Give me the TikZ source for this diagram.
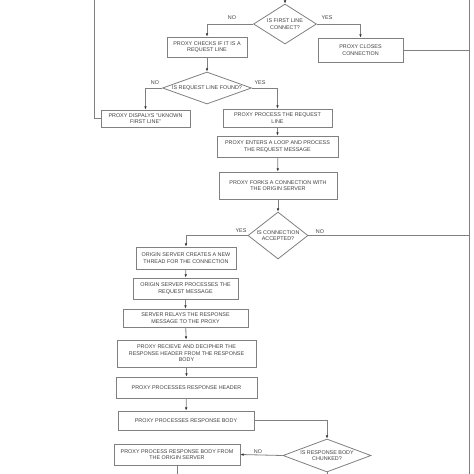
\documentclass[tikz,border=0pt]{standalone}
\usepackage{fontspec}
\setmainfont{Liberation Sans}
\usepackage{xcolor}
\usetikzlibrary{arrows.meta,positioning,shapes.geometric}

\definecolor{flowline}{HTML}{808080}
\definecolor{flowtext}{HTML}{404040}

\begin{document}
\begin{tikzpicture}[
    x=1pt, y=-1pt,
    font=\fontsize{5.4}{6.6}\selectfont,
    box/.style={
        draw=flowline,
        line width=0.8pt,
        text=flowtext,
        align=center,
        inner sep=1pt
    },
    decide/.style={
        draw=flowline,
        line width=0.8pt,
        shape=diamond,
        text=flowtext,
        align=center,
        inner sep=-4pt
    },
    tag/.style={text=flowtext, inner sep=0pt},
    link/.style={draw=flowline, line width=0.8pt},
    arr/.style={link, -{Latex[length=3.2pt,width=2.6pt,color=black!80]}}
]

\useasboundingbox[fill=white] (0,0) rectangle (474,474);

% frame lines that leave the picture
\coordinate (intop) at (285,0);
\coordinate (lefttop) at (94,0);
\coordinate (righttop) at (469,0);
\coordinate (rightbot) at (469,474);
\coordinate (originbot) at (177,474);
\coordinate (chunkbot) at (327,474);

% upper part
\node[decide, aspect=1.6, minimum width=63pt, minimum height=40pt] (firstline) at (285,24)
{IS FIRST LINE\\CONNECT?};

\node[box, minimum width=80pt, minimum height=20pt] (checks) at (207,47)
{PROXY CHECKS IF IT IS A\\REQUEST LINE};

\node[box, minimum width=85pt, minimum height=24pt] (closes) at (360.5,50)
{PROXY CLOSES\\CONNECTION};

\node[decide, aspect=2.8, minimum width=89pt, minimum height=32pt] (reqfound) at (207,88)
{IS REQUEST LINE FOUND?};

\node[box, minimum width=89pt, minimum height=17pt] (unknown) at (145.5,118.5)
{PROXY DISPALYS "UKNOWN\\FIRST LINE"};

\node[box, minimum width=109pt, minimum height=18pt] (reqline) at (277.5,118)
{PROXY PROCESS THE REQUEST\\LINE};

\node[box, minimum width=121pt, minimum height=21pt] (loop) at (277.5,146.5)
{PROXY ENTERS A LOOP AND PROCESS\\THE REQUEST MESSAGE};

\node[box, minimum width=118pt, minimum height=27pt] (forks) at (278,185.5)
{PROXY FORKS A CONNECTION WITH\\THE ORIGIN SERVER};

\node[decide, aspect=1.28, minimum width=60pt, minimum height=47pt] (accepted) at (278,235.5)
{IS CONNECTION\\ACCEPTED?};

% lower part
\node[box, minimum width=100pt, minimum height=22pt] (thread) at (186,258)
{ORIGIN SERVER CREATES A NEW\\THREAD FOR THE CONNECTION};

\node[box, minimum width=105pt, minimum height=21pt] (srvproc) at (185.5,288.5)
{ORIGIN SERVER PROCESSES THE\\REQUEST MESSAGE};

\node[box, minimum width=125pt, minimum height=18pt] (relays) at (185.5,318)
{SERVER RELAYS THE RESPONSE\\MESSAGE TO THE PROXY};

\node[box, minimum width=139pt, minimum height=27pt] (decipher) at (186.5,353.5)
{PROXY RECIEVE AND DECIPHER THE\\RESPONSE HEADER FROM THE RESPONSE\\BODY};

\node[box, minimum width=141pt, minimum height=21pt] (header) at (186.5,387.5)
{PROXY PROCESSES RESPONSE HEADER};

\node[box, minimum width=136pt, minimum height=19pt] (body) at (186,420.5)
{PROXY PROCESSES RESPONSE BODY};

\node[decide, aspect=2.65, minimum width=88pt, minimum height=33pt] (chunked) at (327,455.5)
{IS RESPONSE BODY\\CHUNKED?};

\node[box, minimum width=126pt, minimum height=21pt] (origin) at (177,454.5)
{PROXY PROCESS RESPONSE BODY FROM\\THE ORIGIN SERVER};

% branch labels
\node[tag] (nofirst) at (232,18) {NO};
\node[tag] (yesfirst) at (327,18) {YES};
\node[tag] (nofound) at (155,83) {NO};
\node[tag] (yesfound) at (260,83) {YES};
\node[tag] (yesacc) at (241,231) {YES};
\node[tag] (noacc) at (320,232) {NO};
\node[tag] (nochunk) at (258,452) {NO};

% connectors
\draw[arr] (intop) -- (firstline.north);
\draw[arr] (firstline.west) -| (checks.north);
\draw[arr] (firstline.east) -| (closes.north);
\draw[link] (closes.east) -- (closes.east -| righttop);
\draw[link] (righttop) -- (rightbot);

\draw[arr] (checks) -- (reqfound);
\draw[arr] (reqfound.west) -| (unknown.north);
\draw[arr] (reqfound.east) -| (reqline.north);
\draw[link] (unknown.west) -| (lefttop);

\draw[arr] (reqline) -- (loop);
\draw[arr] (loop) -- (forks);
\draw[arr] (forks) -- (accepted);
\draw[arr] (accepted.west) -| (thread.north);
\draw[link] (accepted.east) -- (accepted.east -| righttop);

\draw[arr] (thread) -- (srvproc);
\draw[arr] (srvproc) -- (relays);
\draw[arr] (relays) -- (decipher);
\draw[arr] (decipher) -- (header);
\draw[arr] (header) -- (body);
\draw[arr] (body.east) -| (chunked.north);
\draw[arr] (chunked.west) -- (origin.east);
\draw[link] (origin.south) -- (originbot);
\draw[link] (chunked.south) -- (chunkbot);

\end{tikzpicture}
\end{document}
